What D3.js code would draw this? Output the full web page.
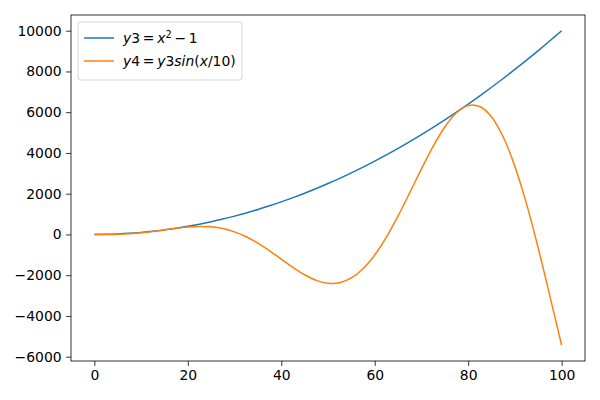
<!DOCTYPE html>
<html>
<head>
<meta charset="utf-8">
<script src="https://cdn.jsdelivr.net/npm/d3@7"></script>
<style>
  body { margin: 0; background: #fff; }
  svg { font-family: "DejaVu Sans", sans-serif; display: block; }
</style>
</head>
<body>
<svg id="chart"></svg>
<script>
// values, every 2.5 units of x
const xs = [0, 2.5, 5, 7.5, 10, 12.5, 15, 17.5, 20, 22.5, 25, 27.5, 30, 32.5, 35, 37.5, 40, 42.5, 45, 47.5, 50,
  52.5, 55, 57.5, 60, 62.5, 65, 67.5, 70, 72.5, 75, 77.5, 80, 82.5, 85, 87.5, 90, 92.5, 95, 97.5, 100];
const y3 = [-1, 5, 24, 55, 99, 155, 224, 305, 399, 505, 624, 755, 899, 1055, 1224, 1405, 1599, 1805, 2024, 2255, 2499,
  2755, 3024, 3305, 3599, 3905, 4224, 4555, 4899, 5255, 5624, 6005, 6399, 6805, 7224, 7655, 8099, 8555, 9024, 9505, 9999];
const y4 = [0, 1, 12, 38, 83, 147, 223, 300, 363, 393, 374, 288, 127, -114, -429, -803, -1210, -1616, -1979, -2254, -2396,
  -2367, -2133, -1680, -1006, -130, 909, 2050, 3219, 4327, 5275, 5972, 6331, 6277, 5768, 4783, 3338, 1488, -679, -3037, -5440];
const xTicks = [0, 20, 40, 60, 80, 100];
const yTicks = [-6000, -4000, -2000, 0, 2000, 4000, 6000, 8000, 10000];
const colors = ["#1f77b4", "#ff7f0e"];

const width = 600, height = 400;
const margin = { top: 15, right: 15, bottom: 39, left: 71 };
const innerWidth = width - margin.left - margin.right;
const innerHeight = height - margin.top - margin.bottom;

const svg = d3.select("#chart").attr("width", width).attr("height", height);
const g = svg.append("g").attr("transform", `translate(${margin.left}, ${margin.top})`);

// matplotlib style 5% padding
const xMin = d3.min(xs), xMax = d3.max(xs);
const yMin = d3.min(y3.concat(y4)), yMax = d3.max(y3.concat(y4));
const xPad = (xMax - xMin) * 0.05, yPad = (yMax - yMin) * 0.05;
const xScale = d3.scaleLinear().domain([xMin - xPad, xMax + xPad]).range([0, innerWidth]);
const yScale = d3.scaleLinear().domain([yMin - yPad, yMax + yPad]).range([innerHeight, 0]);

const fmt = d => d < 0 ? "\u2212" + Math.abs(d) : String(d);

const xAxis = g.append("g").attr("transform", `translate(0, ${innerHeight})`)
  .call(d3.axisBottom(xScale).tickValues(xTicks).tickSize(4.9).tickPadding(4.5).tickFormat(fmt));
const yAxis = g.append("g")
  .call(d3.axisLeft(yScale).tickValues(yTicks).tickSize(4.9).tickPadding(4.5).tickFormat(fmt));
[xAxis, yAxis].forEach(a => {
  a.select(".domain").remove();
  a.selectAll("text").attr("font-size", "13.9px").attr("fill", "#000").attr("font-family", "DejaVu Sans");
  a.selectAll("line").attr("stroke", "#000").attr("stroke-width", 0.8);
});

const series = [y3, y4];
const line = d3.line().x((d, i) => xScale(xs[i])).y(d => yScale(d)).curve(d3.curveCatmullRom.alpha(0.5));
g.selectAll(".series").data(series).join("path")
  .attr("class", "series")
  .attr("fill", "none")
  .attr("stroke", (d, i) => colors[i])
  .attr("stroke-width", 1.5)
  .attr("d", line);

g.append("rect").attr("width", innerWidth).attr("height", innerHeight)
  .attr("fill", "none").attr("stroke", "#000").attr("stroke-width", 0.8);

// legend
const legend = g.append("g").attr("transform", "translate(7, 7)");
legend.append("rect").attr("width", 164).attr("height", 58).attr("rx", 3)
  .attr("fill", "#fff").attr("fill-opacity", 0.8).attr("stroke", "#ccc").attr("stroke-width", 0.8);
const items = legend.selectAll(".item").data([0, 1]).join("g")
  .attr("class", "item")
  .attr("transform", d => `translate(6, ${16 + d * 23})`);
items.append("line").attr("x1", 0).attr("x2", 30).attr("stroke", d => colors[d]).attr("stroke-width", 1.5);
items.append("text").attr("x", 39).attr("y", 5).attr("font-size", "13.9px")
  .attr("font-family", "DejaVu Sans").attr("fill", "#000")
  .each(function(d) {
    const t = d3.select(this);
    if (d === 0) {
      t.append("tspan").attr("font-style", "italic").text("y");
      t.append("tspan").text("3\u2009=\u2009");
      t.append("tspan").attr("font-style", "italic").text("x");
      t.append("tspan").attr("dy", -5).attr("font-size", "9.7px").text("2");
      t.append("tspan").attr("dy", 5).text("\u2009\u2212\u20091");
    } else {
      t.append("tspan").attr("font-style", "italic").text("y");
      t.append("tspan").text("4\u2009=\u2009");
      t.append("tspan").attr("font-style", "italic").text("y");
      t.append("tspan").text("3");
      t.append("tspan").attr("font-style", "italic").text("sin");
      t.append("tspan").text("(");
      t.append("tspan").attr("font-style", "italic").text("x");
      t.append("tspan").text("/10)");
    }
  });
</script>
</body>
</html>
